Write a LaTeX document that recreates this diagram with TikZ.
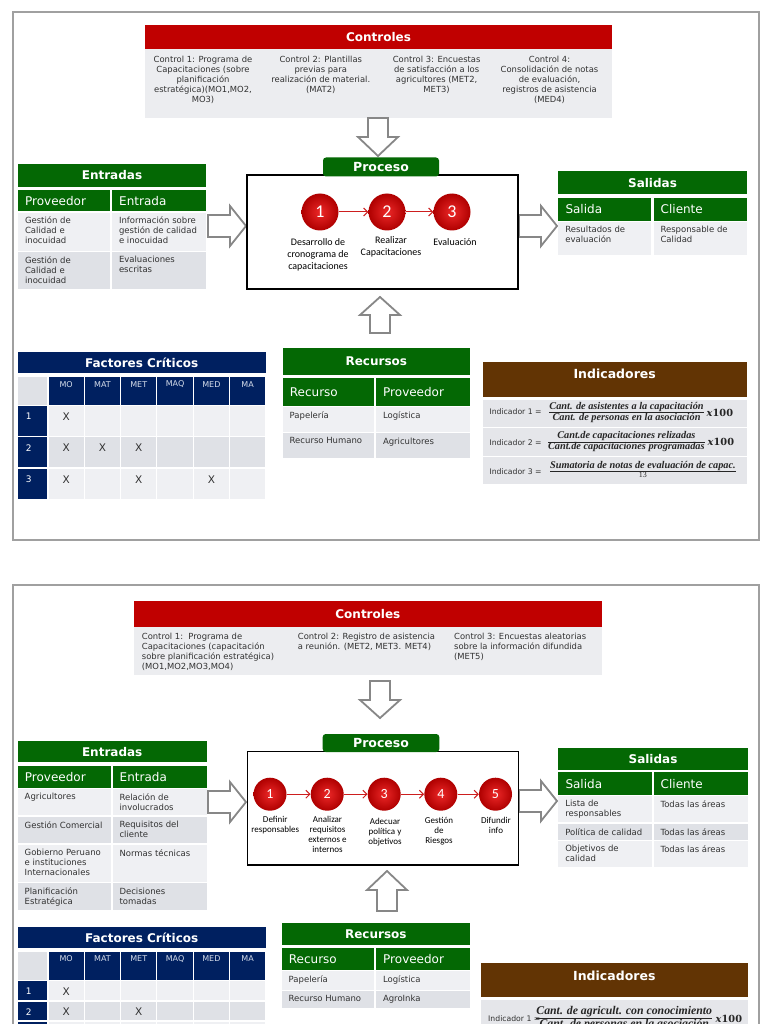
\documentclass[tikz,border=0pt]{standalone}
\usepackage{fontspec}
\setmainfont{DejaVu Sans}
\newfontfamily\carl{Carlito}
\newfontfamily\dser{DejaVu Serif}
\newfontfamily\lser{Liberation Serif}
\usetikzlibrary{arrows.meta}
\definecolor{cred}{RGB}{192,0,0}
\definecolor{cgreen}{RGB}{4,104,4}
\definecolor{cnavy}{RGB}{0,32,96}
\definecolor{cbrown}{RGB}{98,52,4}
\definecolor{clight}{RGB}{239,240,243}
\definecolor{cdark}{RGB}{223,225,230}
\definecolor{cctl}{RGB}{236,237,240}
\definecolor{cind}{RGB}{229,230,234}
\definecolor{ctxt}{RGB}{50,50,50}
\definecolor{carrow}{RGB}{135,135,135}
\definecolor{cpanel}{RGB}{160,160,160}
\definecolor{cballin}{RGB}{236,40,40}
\definecolor{cballout}{RGB}{175,0,0}
\definecolor{cflow}{RGB}{205,30,30}
\definecolor{cfcol}{RGB}{215,222,235}
\newcommand\fr{\lser\bfseries\itshape}
\newcommand\nst{\rule[-2.5pt]{0pt}{7.5pt}}
\newcommand\bst{\rule[-3pt]{0pt}{8.5pt}}
\tikzset{
  box/.style={rectangle, draw=none, inner sep=0pt, outer sep=0pt},
  hdr/.style={box, text=white, font=\bfseries\fontsize{12}{14}\selectfont},
  hdrt/.style={inner sep=0pt, text=white, font=\bfseries\fontsize{12.5}{14}\selectfont},
  sub/.style={inner sep=0pt, text=white, font=\fontsize{12}{14}\selectfont},
  ctext/.style={inner sep=0pt, outer sep=0pt, align=left, anchor=north west, text=ctxt, font=\fontsize{8.5}{10}\selectfont},
  ctl/.style={inner sep=0pt, text=ctxt, font=\fontsize{8.4}{10.2}\selectfont},
  blk/.style={draw=carrow, fill=white, line width=1.8pt, line join=miter},
  panel/.style={draw=cpanel, line width=1.5pt},
  pbox/.style={box, draw=black, line width=1.5pt},
  ptab/.style={rectangle, inner sep=0pt, fill=cgreen, rounded corners=3pt, text=white, font=\bfseries\fontsize{12.5}{14}\selectfont},
  stepbig/.style={circle, inner sep=0pt, minimum size=37pt, inner color=cballin, outer color=cballout, text=white, font=\carl\fontsize{18}{18}\selectfont},
  stepsmall/.style={circle, inner sep=0pt, minimum size=33pt, inner color=cballin, outer color=cballout, text=white, font=\carl\fontsize{14}{14}\selectfont},
  clabbig/.style={inner sep=0pt, anchor=north, align=center, text=black, font=\carl\fontsize{10}{12}\selectfont},
  clabsmall/.style={inner sep=0pt, anchor=north, align=center, text=black, font=\carl\fontsize{9}{10}\selectfont},
  flow/.style={draw=cflow, line width=1pt, -{Straight Barb[length=4pt,width=8pt]}},
  fcol/.style={inner sep=0pt, text=cfcol, font=\fontsize{8}{9}\selectfont},
  flab/.style={inner sep=0pt, anchor=west, text=white, font=\fontsize{9}{10}\selectfont},
  xmark/.style={inner sep=0pt, text=ctxt, font=\fontsize{10.5}{11}\selectfont},
  ind/.style={inner sep=0pt, anchor=west, text=ctxt, font=\fontsize{7.7}{9}\selectfont},
  fracn/.style={inner sep=0pt, anchor=west, text=black!85, font=\fontsize{10.3}{12}\selectfont},
  fracb/.style={inner sep=0pt, anchor=west, text=black!85, font=\fontsize{11.8}{13}\selectfont},
  xcien/.style={inner sep=0pt, anchor=west, text=black!85, font=\dser\bfseries\fontsize{9.8}{10}\selectfont}
}
\newcommand\hcell[7]{\node[hdr, fill=#6, minimum width=#4pt, minimum height=#5pt, anchor=north west] (#1) at (#2,#3) {#7};}
\newcommand\scell[7]{\node[box, fill=#6, minimum width=#4pt, minimum height=#5pt, anchor=north west] (#1) at (#2,#3) {};
  \node[sub, anchor=west] (#1-t) at ([xshift=7pt]#1.west) {#7};}
\newcommand\bcell[7]{\node[box, fill=#6, minimum width=#4pt, minimum height=#5pt, anchor=north west] (#1) at (#2,#3) {};
  \node[ctext] (#1-t) at ([xshift=7pt,yshift=-4.5pt]#1.north west) {#7};}
\begin{document}
\begin{tikzpicture}[x=1pt,y=-1pt]
\useasboundingbox (0,0) rectangle (768,1024);
\fill[white] (0,0) rectangle (768,1024);
% panels
\draw[panel] (13,12) rectangle (759,540);
\draw[panel] (13,585) rectangle (759,1040);

%================ TOP PANEL ================
% Controles
\hcell{tch}{145}{25}{467}{24}{cred}{Controles}
\node[box, fill=cctl, minimum width=467pt, minimum height=69pt, anchor=north west] (tcb) at (145,49) {};
\node[ctl, anchor=north, align=center] (tct1) at (203,55.5) {Control 1: Programa de\\Capacitaciones (sobre\\planificación\\estratégica)(MO1,MO2,\\MO3)};
\node[ctl, anchor=north, align=center] (tct2) at (320.8,55.5) {Control 2: Plantillas\\previas para\\realización de material.\\(MAT2)};
\node[ctl, anchor=north, align=center] (tct3) at (436.6,55.5) {Control 3: Encuestas\\de satisfacción a los\\agricultores (MET2,\\MET3)};
\node[ctl, anchor=north, align=center] (tct4) at (549.5,55.5) {Control 4:\\Consolidación de notas\\de evaluación,\\registros de asistencia\\(MED4)};
% down arrow
\draw[blk] (368,118) -- (388,118) -- (388,137) -- (398,137) -- (378,156) -- (358,137) -- (368,137) -- cycle;

% Entradas
\hcell{teh}{18}{164}{188}{23}{cgreen}{Entradas}
\scell{tes1}{18}{190}{92}{21.5}{cgreen}{Proveedor}
\scell{tes2}{112}{190}{94}{21.5}{cgreen}{Entrada}
\bcell{te11}{18}{212.7}{92}{38}{clight}{Gestión de\\Calidad e\\inocuidad}
\bcell{te12}{112}{212.7}{94}{38}{clight}{Información sobre\\gestión de calidad\\e inocuidad}
\bcell{te21}{18}{252}{92}{36.5}{cdark}{Gestión de\\Calidad e\\inocuidad}
\bcell{te22}{112}{252}{94}{36.5}{cdark}{Evaluaciones\\escritas}
% right arrows
\draw[blk] (208,215) -- (230,215) -- (230,206) -- (246,226) -- (230,246) -- (230,237) -- (208,237) -- cycle;
\draw[blk] (519,215) -- (541,215) -- (541,206) -- (557,226) -- (541,246) -- (541,237) -- (519,237) -- cycle;

% Proceso
\node[pbox, minimum width=271pt, minimum height=114pt, anchor=north west] (tpbox) at (247,175) {};
\node[ptab, minimum width=116pt, minimum height=19pt] (tptab) at (381,167) {Proceso};
\node[stepbig] (tp1) at (320,212) {1};
\node[stepbig] (tp2) at (387,212) {2};
\node[stepbig] (tp3) at (452,212) {3};
\draw[flow] (tp1) -- (tp2);
\draw[flow] (tp2) -- (tp3);
\node[clabbig] (tpl1) at (318,238) {Desarrollo de\\cronograma de\\capacitaciones};
\node[clabbig] (tpl2) at (391,236) {Realizar\\Capacitaciones};
\node[clabbig] (tpl3) at (455,238) {Evaluación};

% Salidas
\hcell{tsh}{558.3}{171.3}{188.4}{22.7}{cgreen}{Salidas}
\scell{tss1}{558.3}{198}{93}{22.7}{cgreen}{Salida}
\scell{tss2}{653.5}{198}{93.2}{22.7}{cgreen}{Cliente}
\bcell{ts11}{558.3}{222}{93}{33.3}{clight}{Resultados de\\evaluación}
\bcell{ts12}{653.5}{222}{93.2}{33.3}{clight}{Responsable de\\Calidad}

% up arrow
\draw[blk] (380,297) -- (400,315) -- (390,315) -- (390,333) -- (370,333) -- (370,315) -- (360,315) -- cycle;

% Factores Criticos
\hcell{tfh}{17.7}{351.7}{248}{21.7}{cnavy}{Factores Críticos}
\node[box, fill=cdark, minimum width=29.6pt, minimum height=28.3pt, anchor=north west] (tf00) at (17.7,376.7) {};
\foreach \lab [count=\i from 0] in {MO,MAT,MET,MAQ,MED,MA} {
  \node[box, fill=cnavy, minimum width=35.3pt, minimum height=28.3pt, anchor=north west] (tfc\i) at ({48.5+36.3*\i},376.7) {};
  \node[fcol] (tfc\i-t) at ([yshift=-7.5pt]tfc\i.north) {\lab};
}
\foreach \rw/\yy/\hh/\cc in {1/406/29.7/clight, 2/437.3/30/cdark, 3/468.7/30.3/clight} {
  \node[box, fill=cnavy, minimum width=29.6pt, minimum height=\hh pt, anchor=north west] (tfr\rw) at (17.7,\yy) {};
  \node[flab] (tfr\rw-t) at ([xshift=8pt,yshift=-10.5pt]tfr\rw.north west) {\rw};
  \foreach \i in {0,...,5} {
    \node[box, fill=\cc, minimum width=35.3pt, minimum height=\hh pt, anchor=north west] (tf\rw\i) at ({48.5+36.3*\i},\yy) {};
  }
}
\foreach \rw/\i in {1/0,2/0,2/1,2/2,3/0,3/2,3/4} {
  \node[xmark] (tfx\rw\i) at ([yshift=-10.5pt]tf\rw\i.north) {X};
}

% Recursos
\hcell{trh}{282.7}{347.7}{187.3}{27.3}{cgreen}{Recursos}
\scell{trs1}{282.7}{378.3}{91.6}{27.7}{cgreen}{Recurso}
\scell{trs2}{376}{378.3}{94}{27.7}{cgreen}{Proveedor}
\bcell{tr11}{282.7}{407}{91.6}{25.3}{clight}{Papelería}
\bcell{tr12}{376}{407}{94}{25.3}{clight}{Logística}
\bcell{tr21}{282.7}{433.3}{91.6}{25}{cdark}{Recurso Humano}
\bcell{tr22}{376}{433.3}{94}{25}{cdark}{Agricultores}

% Indicadores
\node[box, fill=cbrown, minimum width=264pt, minimum height=35pt, anchor=north west] (tih) at (482.7,362.3) {};
\node[hdrt] (tih-t) at (614.7,373.5) {Indicadores};
\node[box, fill=cind, minimum width=264pt, minimum height=26.7pt, anchor=north west] (tir1) at (482.7,400) {};
\node[box, fill=cind, minimum width=264pt, minimum height=27.4pt, anchor=north west] (tir2) at (482.7,428.3) {};
\node[box, fill=cind, minimum width=264pt, minimum height=27pt, anchor=north west] (tir3) at (482.7,457.3) {};
\node[ind] (ti1) at (489.3,411.5) {Indicador 1 =};
\node[fracn] (ti1f) at (548,412.5) {$\frac{\hbox{\fr\nst Cant. de asistentes a la capacitación}}{\hbox{\fr\nst Cant. de personas en la asociación}}$};
\node[xcien] (ti1x) at ([xshift=1.5pt]ti1f.east) {\textit{x}100};
\node[ind] (ti2) at (489.3,442.5) {Indicador 2 =};
\node[fracn] (ti2f) at (546.7,442) {$\frac{\hbox{\fr\nst Cant.de capacitaciones relizadas}}{\hbox{\fr\nst Cant.de capacitaciones programadas}}$};
\node[xcien] (ti2x) at ([xshift=1.5pt]ti2f.east) {\textit{x}100};
\node[ind] (ti3) at (489.3,472) {Indicador 3 =};
\node[fracn] (ti3f) at (548.7,470.5) {$\frac{\hbox{\fr\nst Sumatoria de notas de evaluación de capac.}}{\hbox{\lser\fontsize{8}{9}\selectfont\nst 13}}$};

%================ BOTTOM PANEL ================
\hcell{bch}{134}{601}{467.7}{25.7}{cred}{Controles}
\node[box, fill=cctl, minimum width=467.7pt, minimum height=48.3pt, anchor=north west] (bcb) at (134,626.7) {};
\node[ctl, anchor=north west, align=left] (bct1) at (141.7,632.8) {Control 1:\ \ Programa de\\Capacitaciones (capacitación\\sobre planificación estratégica)\\(MO1,MO2,MO3,MO4)};
\node[ctl, anchor=north west, align=left] (bct2) at (297.7,632.8) {Control 2: Registro de asistencia\\a reunión. (MET2, MET3. MET4)};
\node[ctl, anchor=north west, align=left] (bct3) at (454,632.8) {Control 3: Encuestas aleatorias\\sobre la información difundida\\(MET5)};
% down arrow
\draw[blk] (370,681) -- (390,681) -- (390,700) -- (400,700) -- (380,718) -- (360,700) -- (370,700) -- cycle;

% Entradas
\hcell{beh}{17.7}{741}{189}{21.3}{cgreen}{Entradas}
\scell{bes1}{17.7}{765.7}{93}{22}{cgreen}{Proveedor}
\scell{bes2}{112.5}{765.7}{94.2}{22}{cgreen}{Entrada}
\bcell{be11}{17.7}{789}{93}{26}{clight}{Agricultores}
\bcell{be12}{112.5}{789}{94.2}{26}{clight}{Relación de\\involucrados}
\bcell{be21}{17.7}{816.7}{93}{26.6}{cdark}{Gestión Comercial}
\bcell{be22}{112.5}{816.7}{94.2}{26.6}{cdark}{Requisitos del\\cliente}
\bcell{be31}{17.7}{845}{93}{36.7}{clight}{Gobierno Peruano\\e instituciones\\Internacionales}
\bcell{be32}{112.5}{845}{94.2}{36.7}{clight}{Normas técnicas}
\bcell{be41}{17.7}{883.3}{93}{26.7}{cdark}{Planificación\\Estratégica}
\bcell{be42}{112.5}{883.3}{94.2}{26.7}{cdark}{Decisiones\\tomadas}
% right arrows
\draw[blk] (208,791) -- (230,791) -- (230,782) -- (246,802) -- (230,822) -- (230,813) -- (208,813) -- cycle;
\draw[blk] (519,790) -- (541,790) -- (541,781) -- (557,801) -- (541,821) -- (541,812) -- (519,812) -- cycle;

% Proceso
\node[pbox, minimum width=271pt, minimum height=113.3pt, anchor=north west] (bpbox) at (247.3,751.7) {};
\node[ptab, minimum width=116.6pt, minimum height=18pt] (bptab) at (381,743) {Proceso};
\node[stepsmall] (bp1) at (270,794.2) {1};
\node[stepsmall] (bp2) at (327.2,794.2) {2};
\node[stepsmall] (bp3) at (384.2,794.2) {3};
\node[stepsmall] (bp4) at (440.8,794.2) {4};
\node[stepsmall] (bp5) at (495.5,794.2) {5};
\draw[flow] (bp1) -- (bp2);
\draw[flow] (bp2) -- (bp3);
\draw[flow] (bp3) -- (bp4);
\draw[flow] (bp4) -- (bp5);
\node[clabsmall] (bpl1) at (275.3,816.5) {Definir\\responsables};
\node[clabsmall] (bpl2) at (327.5,816.5) {Analizar\\requisitos\\externos e\\internos};
\node[clabsmall] (bpl3) at (385,818.2) {Adecuar\\política y\\objetivos};
\node[clabsmall] (bpl4) at (439,817.5) {Gestión\\de\\Riesgos};
\node[clabsmall] (bpl5) at (496,817.2) {Difundir\\info};

% Salidas
\hcell{bsh}{558.3}{748.3}{189.4}{21.7}{cgreen}{Salidas}
\scell{bss1}{558.3}{772.3}{93.5}{22.7}{cgreen}{Salida}
\scell{bss2}{653.5}{772.3}{94.2}{22.7}{cgreen}{Cliente}
\bcell{bs11}{558.3}{795.7}{93.5}{26.6}{clight}{Lista de\\responsables}
\bcell{bs12}{653.5}{795.7}{94.2}{26.6}{clight}{Todas las áreas}
\bcell{bs21}{558.3}{824}{93.5}{15.5}{cdark}{Política de calidad}
\bcell{bs22}{653.5}{824}{94.2}{15.5}{cdark}{Todas las áreas}
\bcell{bs31}{558.3}{840.7}{93.5}{26}{clight}{Objetivos de\\calidad}
\bcell{bs32}{653.5}{840.7}{94.2}{26}{clight}{Todas las áreas}

% up arrow
\draw[blk] (387,871) -- (407,890) -- (397,890) -- (397,911) -- (377,911) -- (377,890) -- (367,890) -- cycle;

% Factores Criticos
\hcell{bfh}{17.7}{927.3}{248}{20.4}{cnavy}{Factores Críticos}
\node[box, fill=cdark, minimum width=29.6pt, minimum height=28.3pt, anchor=north west] (bf00) at (17.7,951.7) {};
\foreach \lab [count=\i from 0] in {MO,MAT,MET,MAQ,MED,MA} {
  \node[box, fill=cnavy, minimum width=35.3pt, minimum height=28.3pt, anchor=north west] (bfc\i) at ({48.5+36.3*\i},951.7) {};
  \node[fcol] (bfc\i-t) at ([yshift=-7.3pt]bfc\i.north) {\lab};
}
\foreach \rw/\yy/\hh/\cc in {1/981/19/clight, 2/1001.7/18.3/cdark, 3/1021.7/20/clight} {
  \node[box, fill=cnavy, minimum width=29.6pt, minimum height=\hh pt, anchor=north west] (bfr\rw) at (17.7,\yy) {};
  \foreach \i in {0,...,5} {
    \node[box, fill=\cc, minimum width=35.3pt, minimum height=\hh pt, anchor=north west] (bf\rw\i) at ({48.5+36.3*\i},\yy) {};
  }
}
\node[flab] (bfr1-t) at ([xshift=8pt,yshift=-10.5pt]bfr1.north west) {1};
\node[flab] (bfr2-t) at ([xshift=8pt,yshift=-10pt]bfr2.north west) {2};
\foreach \rw/\i in {1/0,2/0,2/2} {
  \node[xmark] (bfx\rw\i) at ([yshift=-10.3pt]bf\rw\i.north) {X};
}

% Recursos
\hcell{brh}{281.7}{923.3}{188.3}{21.7}{cgreen}{Recursos}
\scell{brs1}{281.7}{948.3}{92.6}{21.7}{cgreen}{Recurso}
\scell{brs2}{376}{948.3}{94}{21.7}{cgreen}{Proveedor}
\bcell{br11}{281.7}{971}{92.6}{19}{clight}{Papelería}
\bcell{br12}{376}{971}{94}{19}{clight}{Logística}
\bcell{br21}{281.7}{991}{92.6}{17.3}{cdark}{Recurso Humano}
\bcell{br22}{376}{991}{94}{17.3}{cdark}{AgroInka}

% Indicadores
\node[box, fill=cbrown, minimum width=266.5pt, minimum height=34pt, anchor=north west] (bih) at (481,963.3) {};
\node[hdrt] (bih-t) at (614.3,976) {Indicadores};
\node[box, fill=cind, minimum width=266.5pt, minimum height=30pt, anchor=north west] (bir1) at (481,1000) {};
\node[ind] (bi1) at (488,1018.5) {Indicador 1 =};
\node[fracb] (bi1f) at (535,1018.5) {$\frac{\hbox{\fr\bst Cant. de agricult. con conocimiento}}{\hbox{\fr\bst Cant. de personas en la asociación}}$};
\node[xcien] (bi1x) at ([xshift=2pt]bi1f.east) {\textit{x}100};
\end{tikzpicture}
\end{document}
